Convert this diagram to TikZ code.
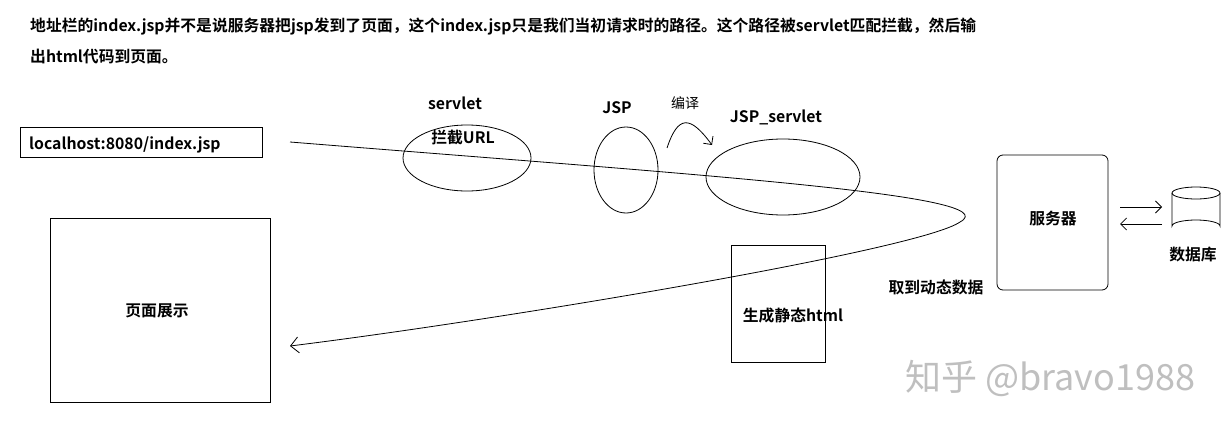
\documentclass[tikz,border=0pt]{standalone}
\usepackage{fontspec}
\setmainfont{Noto Sans CJK SC}[BoldFont={Noto Sans CJK SC Bold}]
\usetikzlibrary{arrows.meta,shapes.geometric}
\begin{document}
\begin{tikzpicture}[x=1pt,y=-1pt,
  lbl/.style={font=\fontsize{15.8}{18}\selectfont\bfseries,inner sep=0},
  bx/.style={draw,line width=0.8pt},
  ln/.style={line width=0.8pt}]
\useasboundingbox (0,0) rectangle (1230,428);
\node[lbl,anchor=west] (t1) at (30,27) {地址栏的index.jsp并不是说服务器把jsp发到了页面，这个index.jsp只是我们当初请求时的路径。这个路径被servlet匹配拦截，然后输};
\node[lbl,anchor=west] (t2) at (30,57) {出html代码到页面。};
\draw[bx] (20,127) rectangle (262,157);
\node[lbl,anchor=west] (loc) at (29,145) {localhost:8080/index.jsp};
\draw[bx] (50,218) rectangle (270,402);
\node[lbl] (page) at (157,311) {页面展示};
\node[lbl] (sv) at (455,103) {servlet};
\draw[ln] (467,158) ellipse [x radius=64,y radius=33];
\node[lbl] (url) at (463,138) {拦截URL};
\node[lbl] (jsp) at (617,108) {JSP};
\draw[ln] (626,170) ellipse [x radius=32,y radius=43];
\node[font=\fontsize{14}{16}\selectfont,inner sep=0] (by) at (685,103) {编译};
\draw[ln,-{Straight Barb[length=6pt]}] (667,148) .. controls (678,115) and (690,115) .. (712,145);
\node[lbl] (js) at (776,117) {JSP\_servlet};
\draw[ln] (783,177) ellipse [x radius=77,y radius=38];
\draw[bx,rounded corners=6pt] (997,155) rectangle (1108,290);
\node[lbl] (srv) at (1053,218) {服务器};
\draw[ln,-{Straight Barb[length=6pt]}] (1120,207) -- (1162,207);
\draw[ln,-{Straight Barb[length=6pt]}] (1162,224) -- (1120,224);
\draw[ln] (1172,193) -- (1172,226) arc[start angle=180,end angle=360,x radius=24,y radius=6] -- (1220,193);
\draw[ln] (1196,193) ellipse [x radius=24,y radius=6];
\node[lbl] (db) at (1193,254) {数据库};
\node[lbl] (get) at (936,287) {取到动态数据};
\draw[bx] (731,245) rectangle (825,362);
\node[lbl] (gen) at (793,316) {生成静态html};
\draw[ln,-{Straight Barb[length=8pt]}] (290,142) .. controls (700,175) and (1010,195) .. (960,222) .. controls (920,250) and (500,320) .. (290,346);
\node[font=\fontsize{36}{38}\selectfont,text=black!25,inner sep=0] (wm) at (1050,378) {知乎 @bravo1988};
\end{tikzpicture}
\end{document}
